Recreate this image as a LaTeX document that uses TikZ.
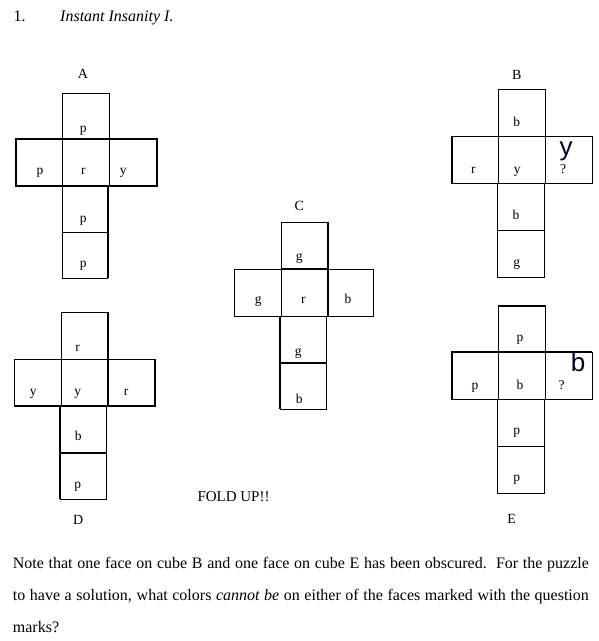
\documentclass[tikz,border=0pt]{standalone}
\usepackage{fontspec}
\setmainfont{Liberation Serif}
\newfontfamily\bigsans{Liberation Sans}
\begin{document}
\begin{tikzpicture}[x=1pt,y=-1pt,
  thin line/.style={line width=0.8pt},
  thick line/.style={line width=1.9pt},
  cell/.style={anchor=base,inner sep=0pt,font=\fontsize{13.5}{15}\selectfont},
  lbl/.style={anchor=base,inner sep=0pt,font=\fontsize{14}{16}\selectfont},
  bigletter/.style={anchor=base,inner sep=0pt,font=\bigsans\fontsize{26}{28}\selectfont,text=black!85!blue}]
\useasboundingbox (0,0) rectangle (599,641);
% header
\node[anchor=base west,inner sep=0pt,font=\fontsize{16}{18}\selectfont] (num) at (13.3,21) {1.};
\node[anchor=base west,inner sep=0pt,font=\fontsize{16}{18}\selectfont\itshape] (title) at (60,21) {Instant Insanity I.};

% ---------- Cube A ----------
\node[lbl] (labA) at (83,78.3) {A};
\draw[thin line] (62.3,93.3) rectangle (109.3,139);
\draw[thin line] (62.3,139) -- (62.3,185.7) (109.3,139) -- (109.3,185.7);
\draw[thick line] (15.7,139) rectangle (156.7,185.7);
\draw[thin line] (62,185.7) -- (62,278.3) -- (107.7,278.3) (62,232.3) -- (107.7,232.3);
\draw[thick line] (107.7,185.7) -- (107.7,278.3);
\node[cell] (a1) at (83.3,132.7) {p};
\node[cell] (a2) at (40,174) {p};
\node[cell] (a3) at (83.3,174) {r};
\node[cell] (a4) at (123.3,174) {y};
\node[cell] (a5) at (83.3,222.7) {p};
\node[cell] (a6) at (83.3,267.7) {p};

% ---------- Cube B ----------
\node[lbl] (labB) at (516.7,79) {B};
\draw[thin line] (498.3,89.3) rectangle (545.7,136.7);
\draw[thin line] (451.7,136.7) rectangle (592.3,183.3);
\draw[thin line] (498.3,136.7) -- (498.3,183.3) (545.7,136.7) -- (545.7,183.3);
\draw[thin line] (497.3,183.3) rectangle (544.3,277.3);
\draw[thin line] (497.3,230.7) -- (544.3,230.7);
\draw[thick line] (451.7,136.7) -- (451.7,183.3);
\node[cell] (b1) at (516.7,126.7) {b};
\node[cell] (b2) at (473.3,173.3) {r};
\node[cell] (b3) at (517.3,173.3) {y};
\node[cell] (b4) at (563,173.3) {?};
\node[bigletter] (b5) at (566,155.5) {y};
\node[cell] (b6) at (516,219.3) {b};
\node[cell] (b7) at (516.7,266.7) {g};

% ---------- Cube C ----------
\node[lbl] (labC) at (299.3,210.7) {C};
\draw[thin line] (281.7,222.3) rectangle (327.7,269);
\draw[thin line] (234.3,269) rectangle (373.3,316);
\draw[thin line] (281.7,269) -- (281.7,316);
\draw[thin line] (280,316) rectangle (326.7,409);
\draw[thick line] (327.7,222.3) -- (327.7,316);
\draw[thick line] (281.7,269) -- (327.7,269);
\draw[thick line] (280,316) -- (280,409);
\draw[thick line] (280,362.7) -- (326.7,362.7);
\node[cell] (c1) at (299.3,260.7) {g};
\node[cell] (c2) at (258.3,303.3) {g};
\node[cell] (c3) at (303.3,303.3) {r};
\node[cell] (c4) at (348,303.3) {b};
\node[cell] (c5) at (298.3,355) {g};
\node[cell] (c6) at (299.3,403.3) {b};

% ---------- Cube D ----------
\draw[thin line] (61.7,312.3) rectangle (107.7,359.3);
\draw[thin line] (14.3,359.3) rectangle (155,406);
\draw[thin line] (61.7,359.3) -- (61.7,406);
\draw[thin line] (60,406) rectangle (106.7,499.3);
\draw[thick line] (107.7,312.3) -- (107.7,406);
\draw[thick line] (14.3,406) -- (155,406) -- (155,359.3);
\draw[thick line] (60,406) -- (60,499.3);
\draw[thick line] (60,453.3) -- (106.7,453.3);
\node[cell] (d1) at (77.7,351.7) {r};
\node[cell] (d2) at (33.3,395) {y};
\node[cell] (d3) at (77.7,395) {y};
\node[cell] (d4) at (126,395) {r};
\node[cell] (d5) at (78.3,440) {b};
\node[cell] (d6) at (77.7,488.3) {p};
\node[lbl] (labD) at (78.3,524) {D};

% ---------- Cube E ----------
\draw[thin line] (498.3,305.7) rectangle (545.7,352.3);
\draw[thin line] (451.7,352.3) rectangle (592.3,399.3);
\draw[thin line] (498.3,352.3) -- (498.3,399.3) (545.7,352.3) -- (545.7,399.3);
\draw[thin line] (497.3,399.3) rectangle (544.3,493.3);
\draw[thin line] (497.3,446.7) -- (544.3,446.7);
\draw[thick line] (498.3,305.7) -- (545.7,305.7);
\draw[thick line] (592.3,352.3) -- (451.7,352.3) -- (451.7,399.3);
\node[cell] (e1) at (520,341.7) {p};
\node[cell] (e2) at (475,389.3) {p};
\node[cell] (e3) at (520,389.3) {b};
\node[cell] (e4) at (561.7,389.3) {?};
\node[bigletter] (e5) at (578,371) {b};
\node[cell] (e6) at (516.7,434.3) {p};
\node[cell] (e7) at (516.7,481.7) {p};
\node[lbl] (labE) at (511.7,523.3) {E};

% fold up
\node[anchor=base west,inner sep=0pt,font=\fontsize{15}{17}\selectfont] (fold) at (197.3,501.7) {FOLD UP!!};

% paragraph
\node[anchor=base west,inner sep=0pt] (para) at (12.7,568) {\parbox[t]{576pt}{\fontsize{16}{32}\selectfont Note that one face on cube B and one face on cube E has been obscured.\ \ For the puzzle\linebreak to have a solution, what colors \textit{cannot be} on either of the faces marked with the question\linebreak marks?}};
\end{tikzpicture}
\end{document}
